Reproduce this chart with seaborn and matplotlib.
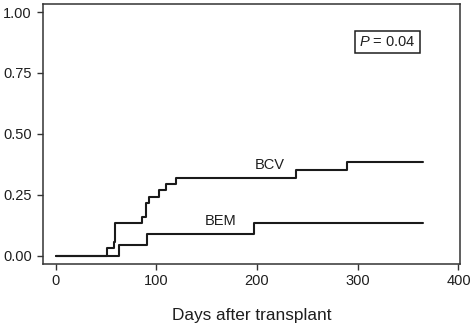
import matplotlib
matplotlib.use("Agg")
import matplotlib.pyplot as plt
import seaborn as sns
import pandas as pd

# Data
bcv_days = [0, 51, 57.5, 59, 85.5, 89.5, 92.5, 103, 109.5, 119.5, 239, 289, 365]
bcv_cuminc = [0, 0.03, 0.055, 0.135, 0.16, 0.215, 0.24, 0.27, 0.295, 0.32, 0.35, 0.385, 0.385]
bem_days = [0, 63, 91, 196.5, 365]
bem_cuminc = [0, 0.045, 0.09, 0.135, 0.135]
x_ticks = [0, 100, 200, 300, 400]
y_ticks = [0.00, 0.25, 0.50, 0.75, 1.00]
y_tick_labels = ["0.00", "0.25", "0.50", "0.75", "1.00"]

df = pd.concat([
    pd.DataFrame({"days": bcv_days, "inc": bcv_cuminc, "group": "BCV"}),
    pd.DataFrame({"days": bem_days, "inc": bem_cuminc, "group": "BEM"}),
])

sns.set_theme(style="ticks")
plt.rcParams['font.family'] = ['Liberation Sans', 'DejaVu Sans']
plt.rcParams['mathtext.fontset'] = 'custom'
plt.rcParams['mathtext.rm'] = 'Liberation Sans'
plt.rcParams['mathtext.it'] = 'Liberation Sans:italic'

fig = plt.figure(figsize=(4.74, 3.24), dpi=100)
ax = fig.add_axes([43/474, 1 - 264/324, (460 - 43)/474, (264 - 4)/324])

line_color = "#1a1a1a"
for g in ["BCV", "BEM"]:
    sub = df[df["group"] == g]
    sns.lineplot(data=sub, x="days", y="inc", ax=ax, color=line_color,
                 drawstyle="steps-post", linewidth=1.5, sort=False,
                 estimator=None, legend=False)

ax.set_xlim(-12.5, 401.5)
ax.set_ylim(-0.034, 1.033)
ax.set_xticks(x_ticks)
ax.set_yticks(y_ticks)
ax.set_yticklabels(y_tick_labels)
ax.tick_params(axis="both", labelsize=10.5, length=4.5, width=1.0,
               colors="#333333", labelcolor="#1e1e1e", direction="out")
ax.tick_params(axis="y", pad=3.5)
ax.tick_params(axis="x", pad=3)
for s in ax.spines.values():
    s.set_visible(True)
    s.set_color("#333333")
    s.set_linewidth(1.1)

ax.set_xlabel("Days after transplant", fontsize=12.4, color="#1e1e1e", labelpad=14)
ax.set_ylabel("")

ax.text(213, 0.372, "BCV", fontsize=10.5, ha="center", va="center", color="#1e1e1e")
ax.text(164, 0.144, "BEM", fontsize=10.5, ha="center", va="center", color="#1e1e1e")
ax.text(329.3, 0.877, r"$\it{P}$ = 0.04", fontsize=10.5, ha="center", va="center",
        color="#1e1e1e",
        bbox=dict(boxstyle="square,pad=0.3", facecolor="white", edgecolor="#1e1e1e", linewidth=1.1))

fig.savefig("out.png", dpi=100)
